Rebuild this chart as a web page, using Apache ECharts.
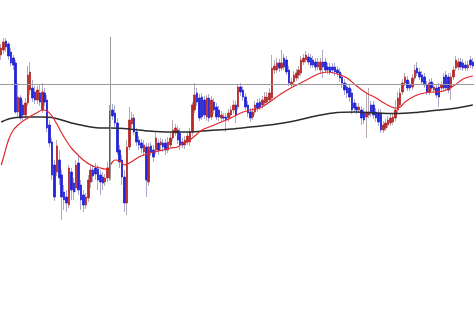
<!DOCTYPE html>
<html><head><meta charset="utf-8">
<script src="https://cdn.jsdelivr.net/npm/echarts@6/dist/echarts.min.js"></script>
<style>html,body{margin:0;padding:0;background:#fff}#c{width:474px;height:323px}</style>
</head><body><div id="c"></div>
<script>
// OHLC prices, one entry per bar
const open = [
345,350,359,356,348,342,337,288,302,295,
285,297,310,312,308,300,307,290,307,300,
275,258,235,228,240,225,208,203,195,228,
217,212,237,215,205,195,202,218,230,232,
231,225,223,218,222,222,290,287,277,250,
240,223,197,253,276,282,268,260,257,248,
253,218,254,250,250,257,255,257,257,250,
255,262,267,270,267,258,255,258,258,268,
290,307,302,303,300,283,302,283,298,293,
290,282,283,283,282,285,290,295,293,313,
310,303,295,288,283,288,297,298,295,297,
298,300,302,330,330,337,332,342,340,330,
315,318,322,325,327,338,340,343,342,340,
338,333,330,338,338,333,333,333,333,330,
328,323,317,313,312,307,297,293,290,290,
288,283,285,295,295,288,287,287,270,272,
275,277,278,282,290,295,308,317,320,315,
313,322,332,328,325,323,315,308,318,310,
312,313,312,323,325,323,312,323,332,333,
338,337,335,332,340,338];
const close = [
352,358,353,344,337,335,288,303,282,285,
297,325,328,302,300,310,298,308,298,272,
257,225,203,254,222,203,200,197,232,210,
208,235,210,200,195,203,220,230,224,226,
220,218,217,222,232,289,284,277,248,238,
223,197,253,280,282,268,258,255,252,255,
220,253,248,243,262,250,258,253,250,258,
262,270,272,260,255,255,260,264,268,295,
305,298,282,283,285,302,282,300,290,283,
283,285,282,280,287,290,295,285,313,308,
303,293,287,282,288,295,292,293,300,303,
303,307,332,334,337,332,337,333,328,317,
318,325,327,330,340,342,345,338,335,335,
333,338,338,333,330,330,328,330,328,327,
322,317,310,307,303,290,292,290,293,282,
280,287,288,287,285,282,278,270,275,277,
280,282,283,290,302,307,317,323,312,312,
322,330,327,323,318,315,308,317,312,313,
305,303,315,312,312,310,323,330,340,338,
333,332,332,335,335,334];
const low = [
340,346,348,340,334,330,286,283,279,280,
282,294,305,298,296,296,294,287,294,268,
253,220,199,224,215,180,190,188,192,200,
200,208,205,190,188,191,198,212,218,220,
210,205,210,214,218,219,280,273,245,232,
215,188,185,250,272,265,254,250,247,244,
203,214,244,238,246,245,250,248,245,247,
252,259,264,256,250,252,251,255,254,264,
287,294,279,280,281,279,278,280,286,280,
279,278,279,268,278,282,286,277,290,304,
299,290,283,278,280,285,288,290,291,294,
295,297,299,326,327,328,329,330,325,314,
312,314,319,321,324,335,337,335,332,332,
329,330,326,322,327,326,325,326,324,323,
318,312,305,302,298,286,288,286,287,275,
276,262,282,283,281,278,274,267,267,269,
272,274,275,279,287,292,305,314,309,309,
310,319,324,320,315,312,305,305,309,307,
302,293,309,309,309,307,300,320,329,330,
330,329,329,329,332,331];
const high = [
356,362,362,358,352,345,340,317,305,300,
302,334,338,320,314,314,315,317,312,305,
280,262,240,260,250,230,215,210,235,232,
222,240,245,220,210,207,225,235,235,237,
235,230,228,226,238,295,296,295,282,255,
245,230,260,293,288,286,272,264,261,260,
257,257,258,255,267,261,262,261,261,263,
267,280,276,274,272,262,264,268,272,298,
317,312,306,307,304,305,306,304,302,297,
294,289,287,287,291,294,300,299,316,317,
314,307,299,292,292,299,301,302,304,308,
308,312,345,340,342,341,350,346,344,334,
322,329,331,334,344,346,349,347,346,344,
342,342,342,350,342,337,337,337,337,334,
332,327,321,317,316,311,301,297,297,294,
292,307,312,299,299,292,291,291,279,281,
284,286,287,300,308,312,321,327,324,319,
326,335,338,332,329,327,319,321,322,317,
316,317,319,327,329,327,327,334,344,342,
342,341,339,339,344,342];
// moving averages: [bar index, value]
const maFast = [[0,235],[1,243],[3,260],[5,270],[7,275],[9,279],[11,282],[13,285],[15,287.5],[17,290],[19,289],[21,284],[23,276],[25,267],[27,259],[29,252],[31,247],[33,242],[35,238],[37,235],[39,233],[41,232],[43,231],[44,230],[45,234],[46,238],[47,240],[49,239],[51,235],[53,237],[55,240],[57,243],[59,245],[63,248],[67,250],[70,252],[73,253],[75,257],[77,258],[79,262],[81,266],[83,270],[87,274],[91,278],[95,282],[99,287],[103,290],[107,292],[111,298],[115,305],[119,311],[123,316],[127,321],[131,326],[135,328],[139,326],[143,322],[147,314],[151,307],[155,302],[159,296],[163,292],[165,293],[167,298],[171,304],[175,307],[179,308],[183,309],[187,314],[191,321],[195,324]];
const maSlow = [[0,278],[3,281],[5,282],[9,283],[17,283],[21,282.5],[25,280],[29,277],[33,275],[37,273],[41,272],[45,272],[53,271],[61,269],[70,268],[78,268],[86,269.5],[95,271],[103,273],[111,275],[119,278],[123,280],[131,284.5],[139,287.5],[147,288],[155,287],[163,286.5],[171,287.5],[179,289.5],[187,291.5],[195,295]];
const crossPrice = 315.5;
const crossIndex = 45;
const crossTop = 363, crossBottom = 220;
const categories = open.map((_, i) => 'B' + (i + 1));

const wickData = open.map((o, i) => [o, close[i], low[i], high[i]]);
const bodyData = open.map((o, i) => [o, close[i], Math.min(o, close[i]), Math.max(o, close[i])]);

const chart = echarts.init(document.getElementById('c'));
chart.setOption({
  animation: false,
  backgroundColor: '#ffffff',
  grid: {left: 0, right: 0, top: 0, bottom: 0},
  xAxis: {type: 'category', data: categories, show: false, boundaryGap: true},
  yAxis: {type: 'value', min: 77, max: 400, show: false, splitLine: {show: false}},
  series: [
    {type: 'candlestick', data: wickData, barWidth: 0.4, z: 1,
     itemStyle: {color: '#b8a9b0', color0: '#a9a9cf', borderColor: '#b8a9b0', borderColor0: '#a9a9cf', borderWidth: 1},
     markLine: {silent: true, symbol: ['none','none'], label: {show: false},
       lineStyle: {color: '#9a9a9a', width: 1, type: 'solid'},
       data: [
         {yAxis: crossPrice},
         [{coord: [crossIndex, crossTop]}, {coord: [crossIndex, crossBottom]}]
       ]}
    },
    {type: 'candlestick', data: bodyData, barWidth: 2, z: 2,
     itemStyle: {color: '#b5282a', color0: '#2222d6', borderColor: '#b5282a', borderColor0: '#2222d6', borderWidth: 0.8}
    },
    {type: 'line', data: maSlow, smooth: 0.3, symbol: 'none', z: 3,
     lineStyle: {color: '#2b2b2b', width: 1.5}},
    {type: 'line', data: maFast, smooth: 0.3, symbol: 'none', z: 4,
     lineStyle: {color: '#e3262b', width: 1.2}}
  ]
});
</script></body></html>
